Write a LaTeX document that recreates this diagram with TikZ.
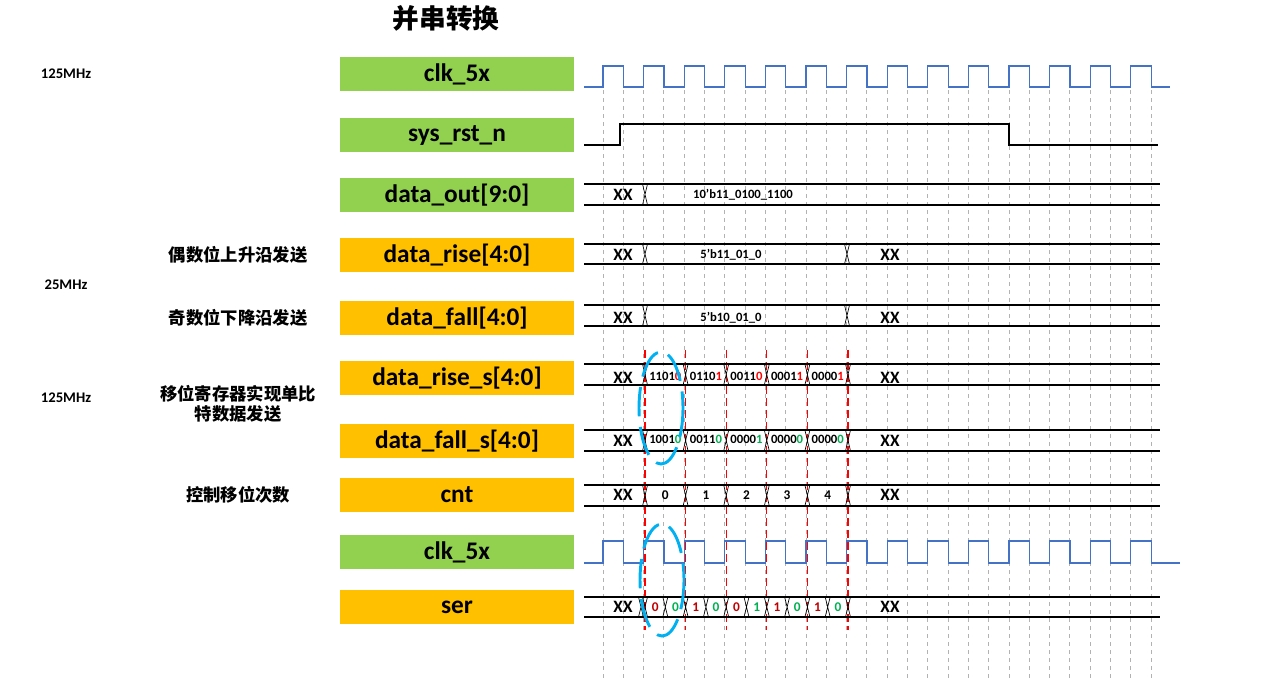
\documentclass[tikz,border=0pt]{standalone}
\usepackage{fontspec}
\setmainfont{Carlito}
\newfontfamily\cjk{Noto Sans CJK SC}
\begin{document}
\begin{tikzpicture}[x=0.75pt,y=-0.75pt,font=\bfseries,
  lbox/.style={minimum width=175.5pt,minimum height=26pt,inner sep=0pt,font=\bfseries\fontsize{19}{21}\selectfont},
  gbox/.style={lbox,fill={rgb,255:red,146;green,208;blue,80}},
  obox/.style={lbox,fill={rgb,255:red,255;green,192;blue,0}},
  clk/.style={draw={rgb,255:red,68;green,114;blue,196},line width=0.9pt},
  bus/.style={draw=black,line width=0.8pt},
  grid/.style={draw=black!30,dashed,line width=0.7pt},
  redl/.style={draw=red,dashed,dash pattern=on 6pt off 3pt,line width=0.9pt},
  ell/.style={draw={rgb,255:red,0;green,176;blue,240},line width=2.2pt,dash pattern=on 22pt off 8pt},
  cn/.style={font=\cjk\bfseries\fontsize{13}{15}\selectfont},
  xx/.style={font=\bfseries\fontsize{13}{15}\selectfont},
  val/.style={font=\bfseries\fontsize{9.5}{11}\selectfont,inner sep=0pt}]
\definecolor{dred}{RGB}{192,0,0}
\definecolor{dgreen}{RGB}{0,176,80}
\useasboundingbox (0,0) rectangle (1276,679);
% grid
\foreach \k in {0,...,27}{\draw[grid] ({603+20.3*\k},90) -- ({603+20.3*\k},679);}
\foreach \k in {0,...,5}{\draw[redl] ({645+40.6*\k},350) -- ({645+40.6*\k},630);}
% title and left texts
\node[font=\cjk\bfseries\fontsize{20}{22}\selectfont] (title) at (446,18) {并串转换};
\node[xx,font=\bfseries\fontsize{11}{13}\selectfont] (f1) at (66,74) {125MHz};
\node[xx,font=\bfseries\fontsize{11}{13}\selectfont] (f2) at (66,285) {25MHz};
\node[xx,font=\bfseries\fontsize{11}{13}\selectfont] (f3) at (66,398) {125MHz};
\node[cn] (c1) at (238,255) {偶数位上升沿发送};
\node[cn] (c2) at (238,318) {奇数位下降沿发送};
\node[cn,align=center] (c3) at (238,404) {移位寄存器实现单比\\特数据发送};
\node[cn] (c4) at (238,495) {控制移位次数};
% label boxes
\node[gbox] (b1) at (457,74) {clk\_5x};
\node[gbox] (b2) at (457,135) {sys\_rst\_n};
\node[gbox] (b3) at (457,195) {data\_out[9:0]};
\node[obox] (b4) at (457,255) {data\_rise[4:0]};
\node[obox] (b5) at (457,318) {data\_fall[4:0]};
\node[obox] (b6) at (457,378) {data\_rise\_s[4:0]};
\node[obox] (b7) at (457,441) {data\_fall\_s[4:0]};
\node[obox] (b8) at (457,495) {cnt};
\node[gbox] (b9) at (457,552) {clk\_5x};
\node[obox] (b10) at (457,607) {ser};
% clocks
\foreach \yl/\yh/\xe in {87/66/1170,563/541/1180}{
  \draw[clk] (584,\yl) \foreach \k in {0,...,13}{ -- ({603+40.6*\k},\yl) -- ({603+40.6*\k},\yh) -- ({623.3+40.6*\k},\yh) -- ({623.3+40.6*\k},\yl)} -- (\xe,\yl);}
% reset
\draw[bus] (584,145) -- (620,145) -- (620,124) -- (1009,124) -- (1009,145) -- (1158,145);
\draw[line width=2pt] (640,124) -- (655,124) (982,124) -- (1000,124) (1037,145) -- (1045,145);
% buses
\foreach \t/\b in {184/205,244/264,305/326,364/385,430/451,485/506,597/617}{
  \draw[bus] (584,\t) -- (1160,\t) (584,\b) -- (1160,\b);}
% transitions
\newcommand\tr[3]{\draw[line width=0.5pt] ({#1-2.5},#2) -- ({#1+2.5},#3) ({#1+2.5},#2) -- ({#1-2.5},#3);}
\tr{645}{184}{205}
\tr{645}{244}{264}\tr{847}{244}{264}
\draw[line width=1pt] (838,244)--(856,244) (838,264)--(856,264);
\tr{645}{305}{326}\tr{847}{305}{326}
\draw[line width=1pt] (640,326)--(656,326) (645,305)--(656,305);
\foreach \k in {0,...,5}{\tr{645+40.6*\k}{364}{385}\tr{645+40.6*\k}{430}{451}\tr{645+40.6*\k}{485}{506}}
\tr{641}{597}{617}
\foreach \k in {0,...,10}{\tr{645+20.3*\k}{597}{617}}
% labels
\foreach \y in {195,255,318,378,441,495,607}{\node[xx] at (623,\y) {XX};}
\foreach \y in {255,318,378,441,495,607}{\node[xx] at (890,\y) {XX};}
\node[val] (v1) at (743,195) {10'b11\_0100\_1100};
\node[val] (v2) at (731,255) {5'b11\_01\_0};
\node[val] (v3) at (731,318) {5'b10\_01\_0};
\foreach \s [count=\i from 0] in {1101\textcolor{red}{0},0110\textcolor{red}{1},0011\textcolor{red}{0},0001\textcolor{red}{1},0000\textcolor{red}{1}}{
  \node[val] at ({665.3+40.6*\i},376) {\s};}
\foreach \s [count=\i from 0] in {1001\textcolor{dgreen}{0},0011\textcolor{dgreen}{0},0000\textcolor{dgreen}{1},0000\textcolor{dgreen}{0},0000\textcolor{dgreen}{0}}{
  \node[val] at ({665.3+40.6*\i},439) {\s};}
\foreach \s [count=\i from 0] in {0,1,2,3,4}{\node[val,font=\bfseries\fontsize{10}{12}\selectfont] at ({665.3+40.6*\i},495) {\s};}
\foreach \s/\c [count=\i from 0] in {0/dred,0/dgreen,1/dred,0/dgreen,0/dred,1/dgreen,1/dred,0/dgreen,1/dred,0/dgreen}{
  \node[val,text=\c,font=\bfseries\fontsize{10}{12}\selectfont] at ({655.2+20.3*\i},607) {\s};}
% ellipses
\draw[ell] (661,408) ellipse [x radius=22,y radius=56];
\draw[ell] (662,580) ellipse [x radius=22,y radius=56];
\end{tikzpicture}
\end{document}
